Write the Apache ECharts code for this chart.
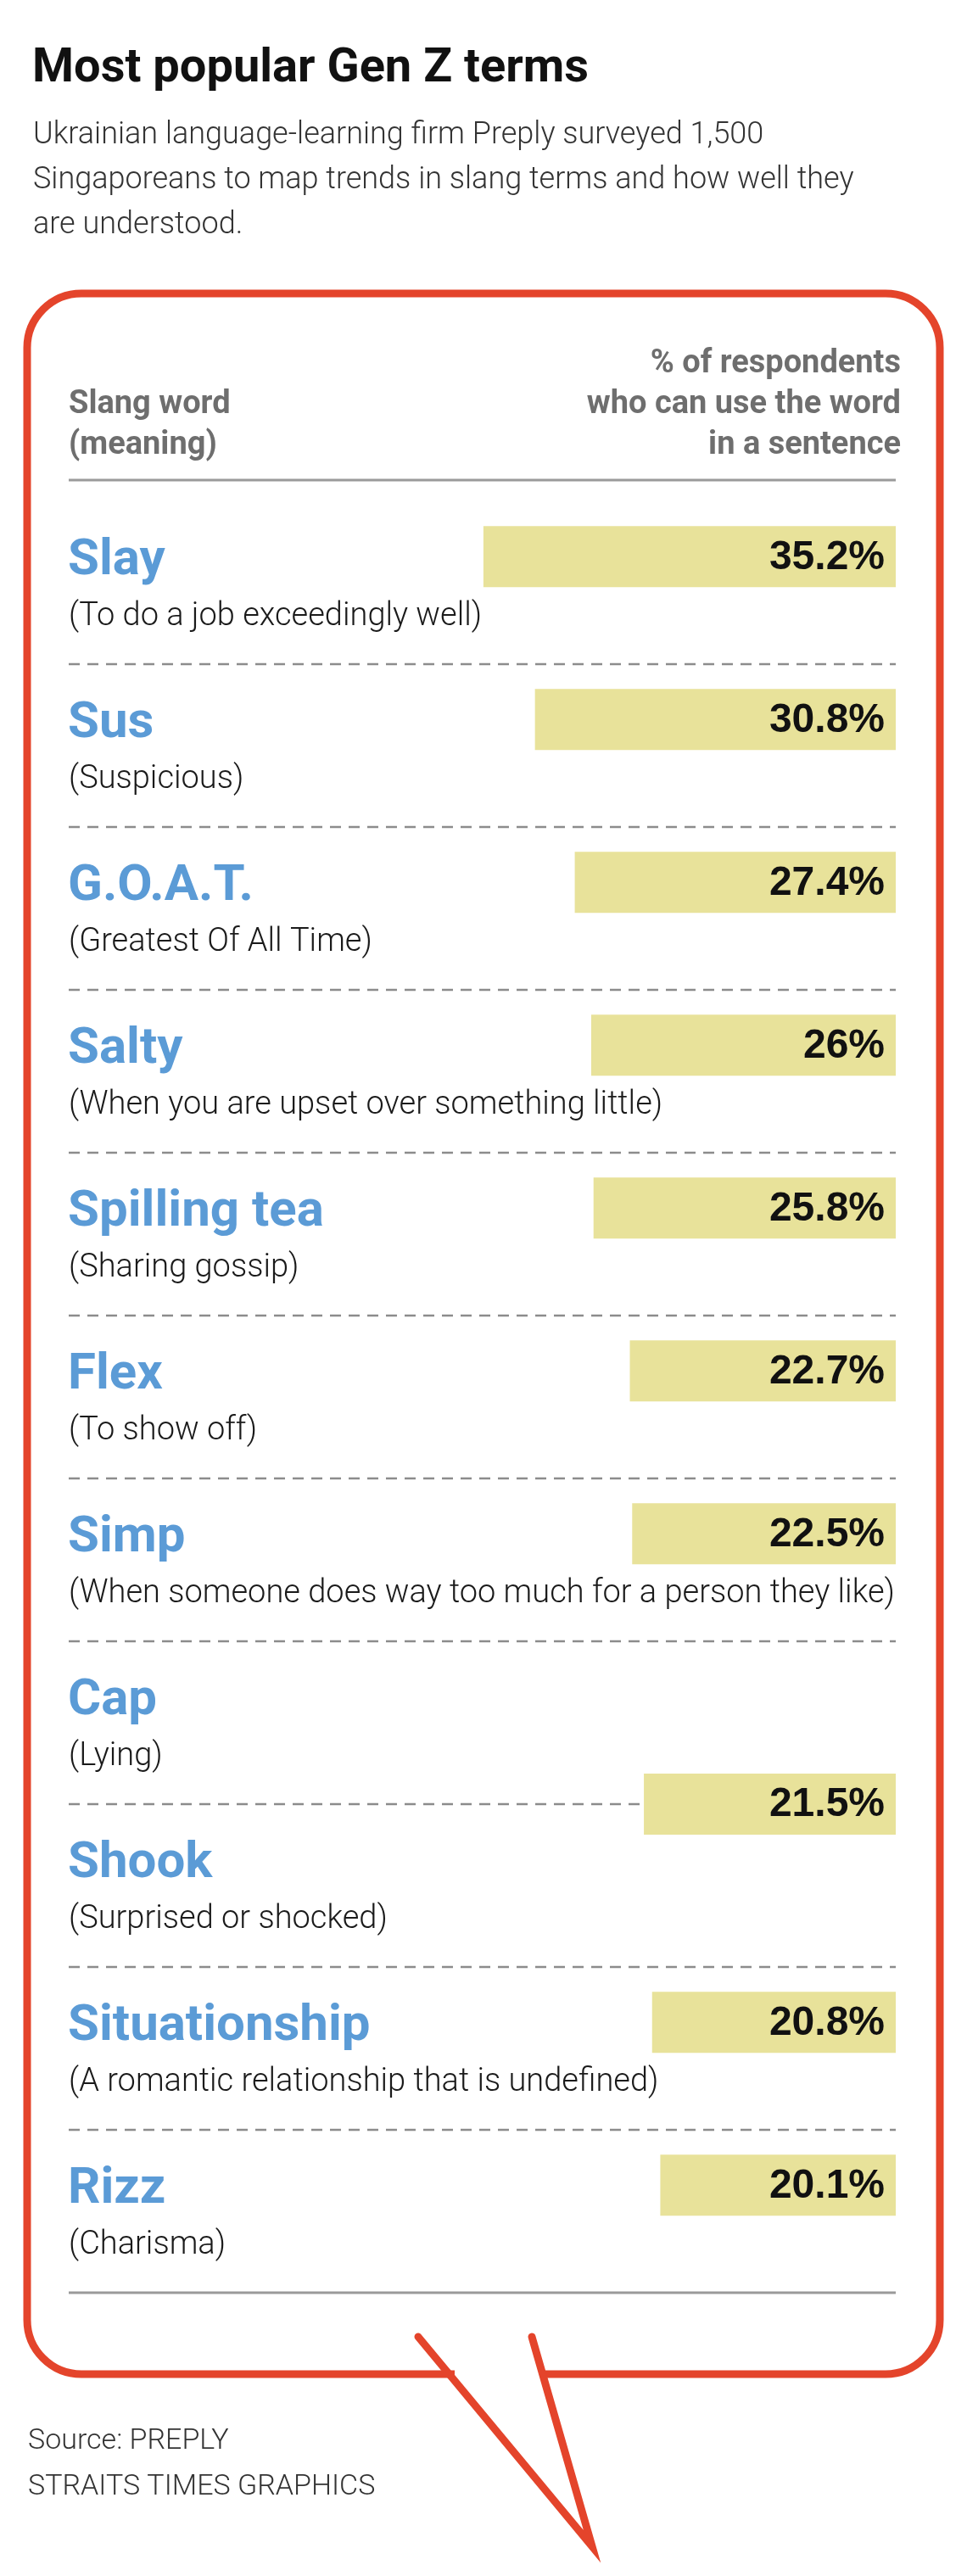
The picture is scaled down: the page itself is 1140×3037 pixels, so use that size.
<!DOCTYPE html>
<html>
<head>
<meta charset="utf-8">
<script src="https://cdn.jsdelivr.net/npm/echarts@6/dist/echarts.min.js"></script>
<style>
html,body{margin:0;padding:0;background:#fff;}
#chart{width:1140px;height:3037px;}
</style>
</head>
<body>
<div id="chart"></div>
<script>
// ---- data ----
const words = ['Slay', 'Sus', 'G.O.A.T.', 'Salty', 'Spilling tea', 'Flex', 'Simp', 'Cap', 'Shook', 'Situationship', 'Rizz'];
const meanings = [
  '(To do a job exceedingly well)',
  '(Suspicious)',
  '(Greatest Of All Time)',
  '(When you are upset over something little)',
  '(Sharing gossip)',
  '(To show off)',
  '(When someone does way too much for a person they like)',
  '(Lying)',
  '(Surprised or shocked)',
  '(A romantic relationship that is undefined)',
  '(Charisma)'
];
const shares = [35.2, 30.8, 27.4, 26, 25.8, 22.7, 22.5, 21.5, 21.5, 20.8, 20.1];

const titleText = 'Most popular Gen Z terms';
const subtitleLines = [
  'Ukrainian language-learning firm Preply surveyed 1,500',
  'Singaporeans to map trends in slang terms and how well they',
  'are understood.'
];
const headerLeft = ['Slang word', '(meaning)'];
const headerRight = ['% of respondents', 'who can use the word', 'in a sentence'];
const sourceLines = ['Source: PREPLY', 'STRAITS TIMES GRAPHICS'];

// ---- layout constants ----
const BAR_OFFSET = 0.34;   // bar centre within a row band
const WORD_OFFSET = 0.37;  // word centre within a row band
const MEAN_OFFSET = 0.71;  // meaning text centre within a row band
const BAR_H = 0.375;       // bar thickness in row units

// group tied values into one bar
const barData = [];
for (let i = 0; i < shares.length;) {
  let j = i;
  while (j + 1 < shares.length && shares[j + 1] === shares[i]) j++;
  const n = j - i + 1;
  const yc = n > 1 ? i + n / 2 : i + BAR_OFFSET;
  barData.push([shares[i], yc]);
  i = j + 1;
}
const rowData = words.map((w, i) => [i, w, meanings[i]]);

const chart = echarts.init(document.getElementById('chart'), null, {renderer: 'canvas'});

const RED = '#e4442b';
const GREY = '#6e6e6e';

const option = {
  backgroundColor: '#ffffff',
  animation: false,
  grid: {left: 81, right: 84, top: 591, bottom: 334},
  xAxis: {type: 'value', inverse: true, min: 0, max: 70.6, show: false},
  yAxis: {type: 'value', inverse: true, min: 0, max: 11, show: false},
  graphic: [
    {type: 'text', x: 38, y: 82, style: {text: titleText, fill: '#111', fontSize: 56, fontWeight: 'bold', fontFamily: 'Roboto', verticalAlign: 'middle'}},
    ...subtitleLines.map((t, k) => ({
      type: 'text', x: 39, y: 160 + k * 53,
      style: {text: t, fill: '#333', fontSize: 36, fontWeight: 300, fontFamily: 'Roboto', verticalAlign: 'middle'}
    })),
    // speech-bubble box
    {type: 'rect', shape: {x: 32, y: 346, width: 1076, height: 2453, r: 64}, style: {fill: 'none', stroke: RED, lineWidth: 9}, z: 0},
    {type: 'rect', shape: {x: 536, y: 2790, width: 106, height: 18}, style: {fill: '#fff'}, z: 1},
    {type: 'polyline', shape: {points: [[493, 2755], [698, 3002], [627, 2755]]}, style: {fill: 'none', stroke: RED, lineWidth: 9, lineCap: 'round', lineJoin: 'miter'}, z: 2},
    // header
    ...headerLeft.map((t, k) => ({
      type: 'text', x: 81, y: 477 + k * 48,
      style: {text: t, fill: GREY, fontSize: 38, fontWeight: 'bold', fontFamily: 'Roboto', verticalAlign: 'middle', align: 'left'}
    })),
    ...headerRight.map((t, k) => ({
      type: 'text', x: 1062, y: 429 + k * 48,
      style: {text: t, fill: GREY, fontSize: 38, fontWeight: 'bold', fontFamily: 'Roboto', verticalAlign: 'middle', align: 'right'}
    })),
    {type: 'line', shape: {x1: 81, y1: 566, x2: 1056, y2: 566}, style: {stroke: '#9a9a9a', lineWidth: 3}},
    // source
    ...sourceLines.map((t, k) => ({
      type: 'text', x: 33, y: 2878 + k * 54,
      style: {text: t, fill: '#333', fontSize: 34, fontWeight: 300, fontFamily: 'Roboto', verticalAlign: 'middle'}
    }))
  ],
  series: [
    {
      type: 'custom',
      name: 'rows',
      z: 1,
      data: rowData,
      renderItem: function (params, api) {
        const i = api.value(0);
        const cs = params.coordSys;
        const left = cs.x, right = cs.x + cs.width;
        const yWord = api.coord([0, i + WORD_OFFSET])[1];
        const yMean = api.coord([0, i + MEAN_OFFSET])[1];
        const yLine = api.coord([0, i + 1])[1];
        const last = i === words.length - 1;
        return {
          type: 'group',
          children: [
            {type: 'text', style: {text: words[i], x: left - 1, y: yWord, fill: '#5b9bd6', fontSize: 60, fontWeight: 'bold', fontFamily: 'Roboto', align: 'left', verticalAlign: 'middle'}},
            {type: 'text', style: {text: meanings[i], x: left, y: yMean, fill: '#1a1a1a', fontSize: 38, fontWeight: 300, fontFamily: 'Roboto', align: 'left', verticalAlign: 'middle'}},
            {type: 'line', shape: {x1: left, y1: yLine, x2: right, y2: yLine},
              style: last ? {stroke: '#9a9a9a', lineWidth: 3} : {stroke: '#8c8c8c', lineWidth: 2.5, lineDash: [13, 9]}}
          ]
        };
      }
    },
    {
      type: 'custom',
      name: 'bars',
      z: 3,
      data: barData,
      renderItem: function (params, api) {
        const v = api.value(0), yc = api.value(1);
        const p0 = api.coord([0, yc]);
        const p1 = api.coord([v, yc]);
        const h = api.size([0, BAR_H])[1];
        return {
          type: 'group',
          children: [
            {type: 'rect', shape: {x: p1[0], y: p0[1] - h / 2, width: p0[0] - p1[0], height: h}, style: {fill: '#e8e29a'}},
            {type: 'text', style: {text: v + '%', x: p0[0] - 13, y: p0[1] + 1, fill: '#111', fontSize: 48, fontWeight: 'bold', fontFamily: "'Liberation Sans', Arial, sans-serif", align: 'right', verticalAlign: 'middle'}}
          ]
        };
      }
    }
  ]
};
chart.setOption(option);
</script>
</body>
</html>
